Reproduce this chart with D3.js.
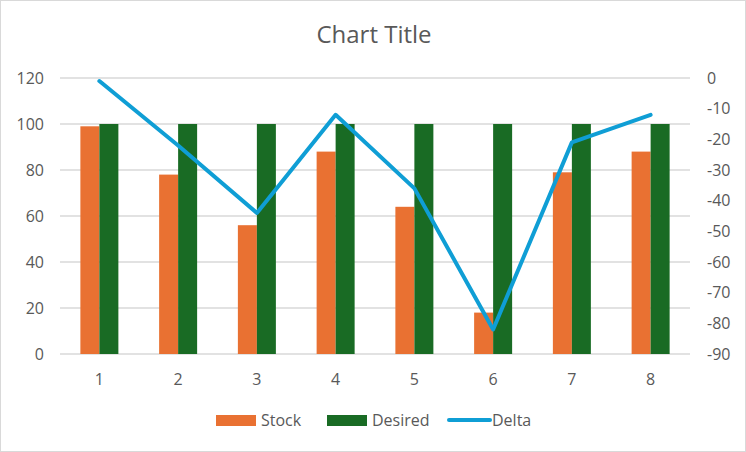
<!DOCTYPE html>
<html>
<head>
<meta charset="utf-8">
<script src="https://cdn.jsdelivr.net/npm/d3@7"></script>
<style>
  body { margin: 0; background: #fff; }
  svg { display: block; font-family: "Open Sans", "Noto Sans", sans-serif; }
</style>
</head>
<body>
<svg id="chart" width="746" height="452"></svg>
<script>
const categories = ['1', '2', '3', '4', '5', '6', '7', '8'];
const stock = [99, 78, 56, 88, 64, 18, 79, 88];
const desired = [100, 100, 100, 100, 100, 100, 100, 100];
const delta = [-1, -22, -44, -12, -36, -82, -21, -12];
const leftTicks = [0, 20, 40, 60, 80, 100, 120];
const rightTicks = [0, -10, -20, -30, -40, -50, -60, -70, -80, -90];

const svg = d3.select('#chart');
const width = +svg.attr('width');
const height = +svg.attr('height');
const margin = { top: 78, right: 56, bottom: 98, left: 60 };
const innerW = width - margin.left - margin.right;
const innerH = height - margin.top - margin.bottom;

const colors = { stock: '#E97132', desired: '#196B24', delta: '#0F9ED5' };
const textColor = '#595959';
const tickSize = '16px';

svg.append('rect')
  .attr('x', 0.5).attr('y', 0.5)
  .attr('width', width - 1).attr('height', height - 1)
  .attr('fill', '#fff').attr('stroke', '#D9D9D9');

svg.append('text')
  .attr('x', width / 2 + 1).attr('y', 43)
  .attr('text-anchor', 'middle')
  .attr('fill', textColor)
  .style('font-size', '24px')
  .text('Chart Title');

const g = svg.append('g').attr('transform', `translate(${margin.left},${margin.top})`);

const x = d3.scaleBand().domain(categories).range([0, innerW]).paddingInner(0).paddingOuter(0);
const barW = 19;
const yL = d3.scaleLinear().domain([0, 120]).range([innerH, 0]);
const yR = d3.scaleLinear().domain([-90, 0]).range([innerH, 0]);

// gridlines
g.selectAll('.grid')
  .data(leftTicks)
  .enter().append('line')
  .attr('x1', 0).attr('x2', innerW)
  .attr('y1', d => yL(d)).attr('y2', d => yL(d))
  .attr('stroke', '#D9D9D9').attr('stroke-width', 1.3);

// left axis labels
g.selectAll('.ltick')
  .data(leftTicks)
  .enter().append('text')
  .attr('x', -16).attr('y', d => yL(d))
  .attr('dy', '0.35em')
  .attr('text-anchor', 'end')
  .attr('fill', textColor)
  .style('font-size', tickSize)
  .text(d => d);

// right axis labels
g.selectAll('.rtick')
  .data(rightTicks)
  .enter().append('text')
  .attr('x', innerW + 17).attr('y', d => yR(d))
  .attr('dy', '0.35em')
  .attr('text-anchor', 'start')
  .attr('fill', textColor)
  .style('font-size', tickSize)
  .text(d => d);

// x labels
g.selectAll('.xtick')
  .data(categories)
  .enter().append('text')
  .attr('x', d => x(d) + x.bandwidth() / 2)
  .attr('y', innerH + 25)
  .attr('dy', '0.35em')
  .attr('text-anchor', 'middle')
  .attr('fill', textColor)
  .style('font-size', tickSize)
  .text(d => d);

// bars
g.selectAll('.stock')
  .data(stock)
  .enter().append('rect')
  .attr('x', (d, i) => x(categories[i]) + x.bandwidth() / 2 - barW)
  .attr('y', d => yL(d))
  .attr('width', barW)
  .attr('height', d => yL(0) - yL(d))
  .attr('fill', colors.stock);

g.selectAll('.desired')
  .data(desired)
  .enter().append('rect')
  .attr('x', (d, i) => x(categories[i]) + x.bandwidth() / 2)
  .attr('y', d => yL(d))
  .attr('width', barW)
  .attr('height', d => yL(0) - yL(d))
  .attr('fill', colors.desired);

// delta line
const line = d3.line()
  .x((d, i) => x(categories[i]) + x.bandwidth() / 2)
  .y(d => yR(d));

g.append('path')
  .datum(delta)
  .attr('d', line)
  .attr('fill', 'none')
  .attr('stroke', colors.delta)
  .attr('stroke-width', 4)
  .attr('stroke-linejoin', 'round')
  .attr('stroke-linecap', 'round');

// legend
const legend = svg.append('g').attr('transform', 'translate(0,420)');
const items = [
  { name: 'Stock', type: 'rect', color: colors.stock, x: 216 },
  { name: 'Desired', type: 'rect', color: colors.desired, x: 327 },
  { name: 'Delta', type: 'line', color: colors.delta, x: 447 }
];
items.forEach(it => {
  if (it.type === 'rect') {
    legend.append('rect')
      .attr('x', it.x).attr('y', -5)
      .attr('width', 40).attr('height', 11)
      .attr('fill', it.color);
  } else {
    legend.append('line')
      .attr('x1', it.x + 2).attr('x2', it.x + 43)
      .attr('y1', 0).attr('y2', 0)
      .attr('stroke', it.color).attr('stroke-width', 4)
      .attr('stroke-linecap', 'round');
  }
  legend.append('text')
    .attr('x', it.x + 45).attr('y', 0)
    .attr('dy', '0.35em')
    .attr('fill', textColor)
    .style('font-size', tickSize)
    .text(it.name);
});
</script>
</body>
</html>
